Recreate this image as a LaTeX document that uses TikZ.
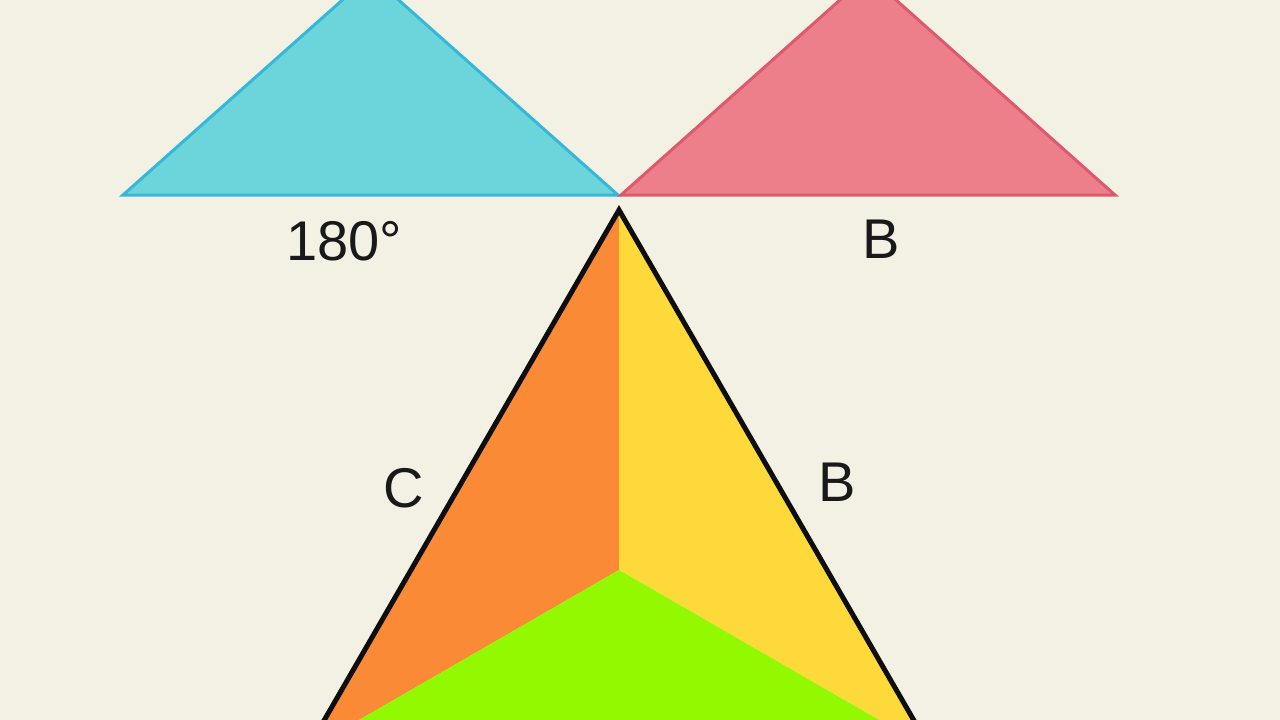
\documentclass[tikz,border=0pt]{standalone}
\usepackage{fontspec}
\setmainfont{Liberation Sans}
\definecolor{bg}{HTML}{F3F0E4}
\definecolor{bluefill}{HTML}{6CD4DB}
\definecolor{bluedraw}{HTML}{35B8D8}
\definecolor{pinkfill}{HTML}{EC7F8A}
\definecolor{pinkdraw}{HTML}{DD5A6C}
\definecolor{orangefill}{HTML}{FA8A35}
\definecolor{yellowfill}{HTML}{FDDA3A}
\definecolor{greenfill}{HTML}{93F900}
\tikzset{
  lbl/.style={font=\fontsize{56}{60}\selectfont, text=black!90, inner sep=0pt},
  bluetri/.style={fill=bluefill, draw=bluedraw, line width=3pt, line join=miter},
  pinktri/.style={fill=pinkfill, draw=pinkdraw, line width=3pt, line join=miter},
  bigout/.style={draw=black!95, line width=5pt, line join=miter},
}
\begin{document}
\begin{tikzpicture}[x=1pt,y=-1pt]
\useasboundingbox (0,0) rectangle (1280,720);
\clip (0,0) rectangle (1280,720);
\fill[bg] (0,0) rectangle (1280,720);
% coordinates
\coordinate (bl) at (123,195);
\coordinate (br) at (618,195);
\coordinate (bt) at (370.5,-25);
\coordinate (pl) at (621,195);
\coordinate (pr) at (1115,195);
\coordinate (pt) at (868,-25);
\coordinate (A) at (619,210);
\coordinate (L) at (307,750);
\coordinate (R) at (931,750);
\coordinate (O) at (619,570);
% top triangles
\path[bluetri] (bl) -- (br) -- (bt) -- cycle;
\path[pinktri] (pl) -- (pr) -- (pt) -- cycle;
% big triangle pieces
\fill[orangefill] (A) -- (O) -- (L) -- cycle;
\fill[yellowfill] (A) -- (R) -- (O) -- cycle;
\fill[greenfill] (O) -- (L) -- (R) -- cycle;
\path[bigout] (A) -- (L) -- (R) -- cycle;
% labels
\node[lbl] (t180) at (344,241) {180°};
\node[lbl] (tB1) at (881,239) {B};
\node[lbl] (tC) at (404,488) {C};
\node[lbl] (tB2) at (837,482) {B};
\end{tikzpicture}
\end{document}
